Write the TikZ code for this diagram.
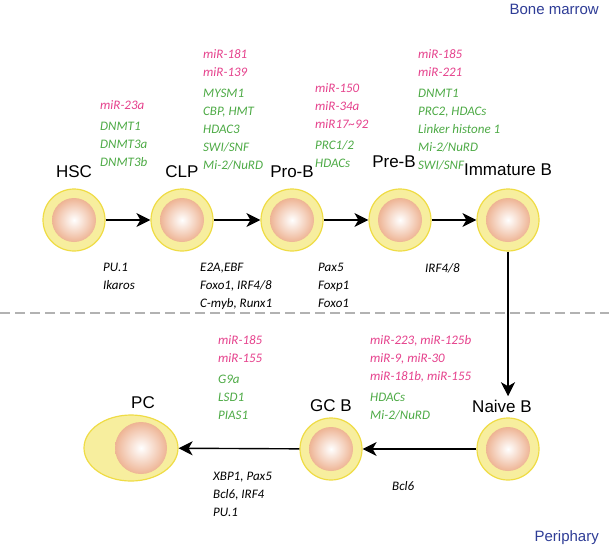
\documentclass[tikz,border=0pt]{standalone}
\usepackage{fontspec}
\setmainfont{Carlito}
\newfontfamily\lab{Liberation Sans}
\usetikzlibrary{arrows.meta,shapes.geometric}
\definecolor{pk}{HTML}{E5418C}
\definecolor{gr}{HTML}{4DAA45}
\definecolor{bl}{HTML}{2E3C96}
\definecolor{yo}{HTML}{F7EE9E}
\definecolor{yb}{HTML}{EFDC45}
\definecolor{sk}{HTML}{EEB494}
\tikzset{
 outer/.style={circle,draw=yb,line width=1.2pt,fill=yo,minimum size=62pt,inner sep=0},
 nuc/.style={circle,inner color=white,outer color=sk,minimum size=44pt,inner sep=0},
 cname/.style={font=\lab\fontsize{17}{17}\selectfont},
 lst/.style={anchor=north west,align=left,font=\itshape\fontsize{13}{18}\selectfont,inner sep=0},
 arr/.style={-{Stealth[length=14pt,width=14pt,inset=4pt]},line width=1.4pt},
}
\begin{document}
\begin{tikzpicture}[x=1pt,y=-1pt]
\useasboundingbox (0,0) rectangle (609,549);
\node[font=\lab\fontsize{15}{15}\selectfont,text=bl,anchor=north east,inner sep=0] (bm) at (599,4) {Bone marrow};
\node[font=\lab\fontsize{15}{15}\selectfont,text=bl,anchor=south east,inner sep=0] (pe) at (599,545) {Periphary};
\draw[gray!60,line width=2pt,dash pattern=on 10pt off 5pt] (0,313) -- (609,313);
% top row cells
\foreach \n/\x in {hsc/74,clp/182,prob/292,preb/400,imm/508}{
  \node[outer] (\n) at (\x,220) {};
  \node[nuc] (\n n) at (\x,220) {};
}
\node[cname] (lhsc) at (74,172) {HSC};
\node[cname] (lclp) at (182,172) {CLP};
\node[cname] (lprob) at (292,172) {Pro-B};
\node[cname] (lpreb) at (394,162) {Pre-B};
\node[cname] (limm) at (508,170) {Immature B};
% bottom cells
\node[outer] (naive) at (508,449) {};
\node[nuc] (naiven) at (508,449) {};
\node[outer] (gcb) at (331,449) {};
\node[nuc] (gcbn) at (331,449) {};
\node[ellipse,draw=yb,line width=1.2pt,fill=yo,minimum width=94pt,minimum height=66pt,inner sep=0] (pc) at (131,448) {};
\node[circle,inner color=white,outer color=sk,minimum size=52pt,inner sep=0] (pcn) at (141,448) {};
\node[cname] (lnaive) at (502,406) {Naive B};
\node[cname] (lgcb) at (331,406) {GC B};
\node[cname] (lpc) at (143,403) {PC};
% arrows
\draw[arr] (hsc) -- (clp);
\draw[arr] (clp) -- (prob);
\draw[arr] (prob) -- (preb);
\draw[arr] (preb) -- (imm);
\draw[arr] (imm) -- (imm |- lnaive.north);
\draw[arr] (naive) -- (gcb);
\draw[arr] (gcb) -- (pc);
% lists top
\node[lst] (t1) at (100,100) {\color{pk}miR-23a\\[3pt]\color{gr}DNMT1\\\color{gr}DNMT3a\\\color{gr}DNMT3b};
\node[lst] (t2) at (203,49) {\color{pk}miR-181\\\color{pk}miR-139\\[3pt]\color{gr}MYSM1\\\color{gr}CBP, HMT\\\color{gr}HDAC3\\\color{gr}SWI/SNF\\\color{gr}Mi-2/NuRD};
\node[lst] (t3) at (315,83) {\color{pk}miR-150\\\color{pk}miR-34a\\\color{pk}miR17\textasciitilde 92\\[3pt]\color{gr}PRC1/2\\\color{gr}HDACs};
\node[lst] (t4) at (418,49) {\color{pk}miR-185\\\color{pk}miR-221\\[3pt]\color{gr}DNMT1\\\color{gr}PRC2, HDACs\\\color{gr}Linker histone 1\\\color{gr}Mi-2/NuRD\\\color{gr}SWI/SNF};
\node[lst] (b1) at (103,263) {PU.1\\Ikaros};
\node[lst] (b2) at (200,263) {E2A,EBF\\Foxo1, IRF4/8\\C-myb, Runx1};
\node[lst] (b3) at (318,263) {Pax5\\Foxp1\\Foxo1};
\node[lst] (b4) at (425,263) {IRF4/8};
% periphery lists
\node[lst] (p1) at (218,335) {\color{pk}miR-185\\\color{pk}miR-155\\[3pt]\color{gr}G9a\\\color{gr}LSD1\\\color{gr}PIAS1};
\node[lst] (p2) at (370,335) {\color{pk}miR-223, miR-125b\\\color{pk}miR-9, miR-30\\\color{pk}miR-181b, miR-155\\[3pt]\color{gr}HDACs\\\color{gr}Mi-2/NuRD};
\node[lst] (p3) at (213,472) {XBP1, Pax5\\Bcl6, IRF4\\PU.1};
\node[lst] (p4) at (392,481) {Bcl6};
\end{tikzpicture}
\end{document}
